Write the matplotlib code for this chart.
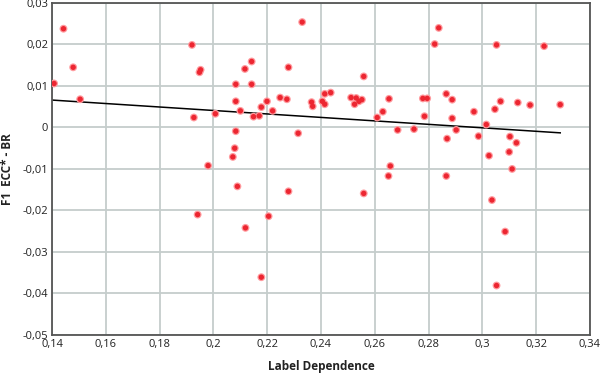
import numpy as np
import matplotlib
matplotlib.use('Agg')
import matplotlib.pyplot as plt

# label dependence vs F1 difference (ECC* - BR)
label_dep = [0.1407, 0.1442, 0.1478, 0.1504, 0.1920, 0.1927, 0.1941, 0.1948, 0.1952,
             0.1980, 0.2007, 0.2072, 0.2079, 0.2083, 0.2083, 0.2083, 0.2089, 0.2100,
             0.2117, 0.2119, 0.2142, 0.2142, 0.2149, 0.2170, 0.2178, 0.2178, 0.2199,
             0.2205, 0.2220, 0.2248, 0.2273, 0.2279, 0.2279, 0.2315, 0.2330, 0.2365,
             0.2369, 0.2405, 0.2414, 0.2414, 0.2436, 0.2512, 0.2525, 0.2531, 0.2541,
             0.2552, 0.2559, 0.2559, 0.2609, 0.2630, 0.2651, 0.2653, 0.2658, 0.2685,
             0.2746, 0.2779, 0.2785, 0.2795, 0.2823, 0.2838, 0.2866, 0.2866, 0.2869,
             0.2888, 0.2888, 0.2903, 0.2969, 0.2986, 0.3015, 0.3025, 0.3036, 0.3047,
             0.3053, 0.3053, 0.3068, 0.3085, 0.3100, 0.3103, 0.3111, 0.3127, 0.3132,
             0.3178, 0.3230, 0.3290]
f1_diff = [0.0106, 0.0238, 0.0145, 0.0068, 0.0199, 0.0024, -0.0210, 0.0133, 0.0139,
           -0.0092, 0.0033, -0.0071, -0.0050, 0.0104, 0.0063, -0.0009, -0.0142, 0.0040,
           0.0141, -0.0242, 0.0159, 0.0104, 0.0026, 0.0028, 0.0049, -0.0361, 0.0063,
           -0.0214, 0.0040, 0.0072, 0.0068, 0.0145, -0.0154, -0.0014, 0.0254, 0.0061,
           0.0051, 0.0063, 0.0056, 0.0081, 0.0084, 0.0072, 0.0056, 0.0071, 0.0063,
           0.0067, 0.0123, -0.0159, 0.0024, 0.0038, -0.0117, 0.0069, -0.0093, -0.0006,
           -0.0004, 0.0070, 0.0027, 0.0070, 0.0201, 0.0240, 0.0081, -0.0117, -0.0027,
           0.0067, 0.0022, -0.0006, 0.0038, -0.0021, 0.0007, -0.0068, -0.0175, 0.0044,
           0.0199, -0.0381, 0.0063, -0.0251, -0.0059, -0.0022, -0.0100, -0.0037, 0.0060,
           0.0054, 0.0196, 0.0055]

# trend line end points
trend_x = [0.14, 0.329]
trend_y = [0.0066, -0.0013]

x_ticks = [0.14, 0.16, 0.18, 0.2, 0.22, 0.24, 0.26, 0.28, 0.3, 0.32, 0.34]
x_labels = ['0,14', '0,16', '0,18', '0,2', '0,22', '0,24', '0,26', '0,28', '0,3', '0,32', '0,34']
y_ticks = [-0.05, -0.04, -0.03, -0.02, -0.01, 0, 0.01, 0.02, 0.03]
y_labels = ['-0,05', '-0,04', '-0,03', '-0,02', '-0,01', '0', '0,01', '0,02', '0,03']

plt.rcParams['font.family'] = ['Open Sans', 'DejaVu Sans']

fig = plt.figure(figsize=(6, 3.75), dpi=100)
ax = fig.add_axes([0.087, 0.107, 0.896, 0.885])

ax.set_xlim(0.14, 0.34)
ax.set_ylim(-0.05, 0.03)
ax.set_xticks(x_ticks)
ax.set_xticklabels(x_labels)
ax.set_yticks(y_ticks)
ax.set_yticklabels(y_labels)
ax.tick_params(length=0, labelsize=8, pad=3, labelcolor='#222222')

ax.grid(True, color='#c5cdcc', linewidth=1.3)
ax.set_axisbelow(True)
for s in ax.spines.values():
    s.set_color('#555555')
    s.set_linewidth(1.3)

ax.plot(trend_x, trend_y, color='black', linewidth=1.1, zorder=2)
ax.scatter(label_dep, f1_diff, s=32, color='#ff9a9e', edgecolors='none', zorder=3)
ax.scatter(label_dep, f1_diff, s=15, color='#ec2631', edgecolors='none', zorder=4)

ax.set_xlabel('Label Dependence', fontsize=8.5, fontweight='bold', labelpad=7, color='#222222')
ax.set_ylabel('F1  ECC* - BR', fontsize=8.5, fontweight='bold', labelpad=6, color='#222222')

fig.savefig('out.png', dpi=100)
